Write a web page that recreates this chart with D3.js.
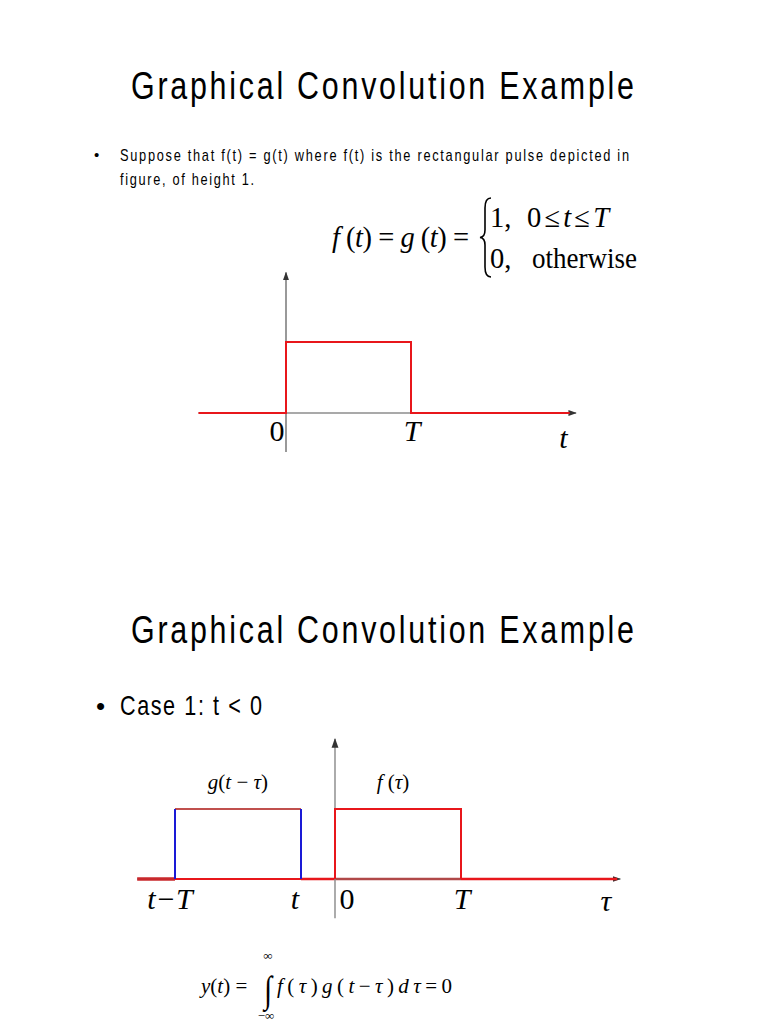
<!DOCTYPE html>
<html>
<head>
<meta charset="utf-8">
<script src="https://cdn.jsdelivr.net/npm/d3@7"></script>
<style>
  body { margin: 0; background: #fff; }
  .sans { font-family: "Liberation Sans", Arial, sans-serif; }
  .serif { font-family: "Liberation Serif", "Times New Roman", serif; }
</style>
</head>
<body>
<div id="chart"></div>
<script>
// Pulse data (T = 1, height 1)
const T = 1;
const pulseTime = [-0.7, 0, 0, T, T, 2.27];
const pulseValue = [0, 0, 1, 1, 0, 0];

// Case 1 (t < 0): shifted g(t - tau)
const tShift = -0.27;
const caseBaseTime = [-1.57, 2.24];
const caseAxisLabels = ["t\u2212T", "t", "0", "T"];
const caseAxisTicks = [tShift - T, tShift, 0, T];

const width = 768;
const height = 1024;
const narrow = 0.8; // condensed look of the slide font

const svg = d3.select("#chart")
  .append("svg")
  .attr("width", width)
  .attr("height", height);

// arrow head marker
svg.append("defs").append("marker")
  .attr("id", "arrow")
  .attr("viewBox", "0 0 10 10")
  .attr("refX", 9).attr("refY", 5)
  .attr("markerWidth", 7).attr("markerHeight", 7)
  .attr("orient", "auto-start-reverse")
  .append("path")
  .attr("d", "M0,1.5 L10,5 L0,8.5 Z")
  .attr("fill", "#333");

// narrow, letter-spaced sans text
function sansText(x, y, size, w, str) {
  svg.append("g")
    .attr("transform", `translate(${x},${y}) scale(${narrow},1)`)
    .append("text")
    .attr("class", "sans")
    .attr("font-size", size)
    .attr("textLength", w / narrow)
    .attr("lengthAdjust", "spacing")
    .text(str);
}

// Titles
sansText(131, 99, 38, 503, "Graphical Convolution Example");
sansText(131, 643, 38, 503, "Graphical Convolution Example");

// Bullet 1
svg.append("text").attr("class", "sans").attr("x", 94).attr("y", 160)
  .attr("font-size", 15).text("\u2022");
sansText(120, 161, 16, 509, "Suppose that f(t) = g(t) where f(t) is the rectangular pulse depicted in");
sansText(120, 185, 16, 134, "figure, of height 1.");

// Definition formula
const fm = svg.append("g").attr("class", "serif").attr("font-size", 28.5);
const lhs = fm.append("text").attr("x", 332).attr("y", 247)
  .attr("textLength", 137).attr("lengthAdjust", "spacing");
lhs.append("tspan").attr("font-style", "italic").text("f");
lhs.append("tspan").text(" (");
lhs.append("tspan").attr("font-style", "italic").text("t");
lhs.append("tspan").text(") = ");
lhs.append("tspan").attr("font-style", "italic").text("g");
lhs.append("tspan").text(" (");
lhs.append("tspan").attr("font-style", "italic").text("t");
lhs.append("tspan").text(") =");

fm.append("path")
  .attr("d", "M491,198 Q485,198 485,208 L485,230 Q485,237 480,237.5 Q485,238 485,245 L485,267 Q485,277 491,277")
  .attr("fill", "none").attr("stroke", "#000").attr("stroke-width", 1.6);

fm.append("text").attr("x", 490).attr("y", 227).text("1,");
const l1 = fm.append("text").attr("x", 527).attr("y", 227)
  .attr("textLength", 82).attr("lengthAdjust", "spacing");
l1.append("tspan").text("0\u2264");
l1.append("tspan").attr("font-style", "italic").text("t");
l1.append("tspan").text("\u2264");
l1.append("tspan").attr("font-style", "italic").text("T");
fm.append("text").attr("x", 490).attr("y", 268).text("0,");
fm.append("text").attr("x", 532).attr("y", 268)
  .attr("textLength", 105).attr("lengthAdjust", "spacingAndGlyphs").text("otherwise");

// ---------- Chart 1 ----------
const x1 = d3.scaleLinear().domain([0, T]).range([286, 411]);
const y1 = d3.scaleLinear().domain([0, 1]).range([413, 342]);

const line1 = d3.line().x(d => x1(d[0])).y(d => y1(d[1]));

// axes
svg.append("line")
  .attr("x1", x1(-0.7)).attr("x2", x1(2.32))
  .attr("y1", y1(0)).attr("y2", y1(0))
  .attr("stroke", "#555").attr("stroke-width", 1.2)
  .attr("marker-end", "url(#arrow)");
svg.append("line")
  .attr("x1", x1(0)).attr("x2", x1(0))
  .attr("y1", y1(-0.55)).attr("y2", y1(1.98))
  .attr("stroke", "#555").attr("stroke-width", 1.2)
  .attr("marker-end", "url(#arrow)");

svg.append("path")
  .datum(d3.zip(pulseTime, pulseValue))
  .attr("d", line1)
  .attr("fill", "none")
  .attr("stroke", "#e8161b")
  .attr("stroke-width", 2);

const lab1 = svg.append("g").attr("class", "serif").attr("font-size", 30).attr("text-anchor", "middle");
lab1.append("text").attr("x", x1(0) - 9).attr("y", 441).text("0");
lab1.append("text").attr("x", x1(T) + 1).attr("y", 441).attr("font-style", "italic").text("T");
lab1.append("text").attr("x", x1(2.22)).attr("y", 448).attr("font-style", "italic").text("t");

// Bullet 2
svg.append("text").attr("class", "sans").attr("x", 96).attr("y", 715)
  .attr("font-size", 26).text("\u2022");
sansText(120, 715, 27, 142, "Case 1: t < 0");

// ---------- Chart 2 ----------
const x2 = d3.scaleLinear().domain([0, T]).range([335, 461]);
const y2 = d3.scaleLinear().domain([0, 1]).range([879, 809]);
const line2 = d3.line().x(d => x2(d[0])).y(d => y2(d[1]));

// baseline (red) and axes
svg.append("line")
  .attr("x1", x2(caseBaseTime[0])).attr("x2", x2(caseBaseTime[1]) + 3)
  .attr("y1", y2(0)).attr("y2", y2(0))
  .attr("stroke", "#555").attr("stroke-width", 1.2)
  .attr("marker-end", "url(#arrow)");
svg.append("path")
  .datum([[tShift, 0], [0, 0]])
  .attr("d", line2).attr("stroke", "#e8161b").attr("stroke-width", 2.4);
svg.append("path")
  .datum([[0, 0], [T, 0]])
  .attr("d", line2).attr("stroke", "#b04848").attr("stroke-width", 2.4);
svg.append("path")
  .datum([[T, 0], [caseBaseTime[1], 0]])
  .attr("d", line2).attr("stroke", "#e8161b").attr("stroke-width", 2.4);
svg.append("path")
  .datum([[caseBaseTime[0], 0], [tShift - T, 0]])
  .attr("d", line2).attr("stroke", "#c8282c").attr("stroke-width", 3.4);
svg.append("path")
  .datum([[tShift - T, 0], [tShift, 0]])
  .attr("d", line2).attr("stroke", "#e8161b").attr("stroke-width", 2);

svg.append("line")
  .attr("x1", x2(0)).attr("x2", x2(0))
  .attr("y1", y2(-0.56)).attr("y2", y2(2.0))
  .attr("stroke", "#888").attr("stroke-width", 1.4)
  .attr("marker-end", "url(#arrow)");

// f(tau)
svg.append("path")
  .datum(d3.zip(pulseTime.slice(1, 5), pulseValue.slice(1, 5)))
  .attr("d", line2)
  .attr("fill", "none")
  .attr("stroke", "#e8161b")
  .attr("stroke-width", 2);

// g(t - tau): top edge and blue sides
svg.append("path")
  .datum([[tShift - T, 1], [tShift, 1]])
  .attr("d", line2).attr("stroke", "#c0504d").attr("stroke-width", 2);
[tShift - T, tShift].forEach(v => {
  svg.append("path")
    .datum([[v, 0], [v, 1]])
    .attr("d", line2).attr("stroke", "#1a1ad6").attr("stroke-width", 2);
});

const lab2 = svg.append("g").attr("class", "serif").attr("font-size", 30).attr("text-anchor", "middle");
const tickOffsets = [-5, -6, 12, 1];
caseAxisLabels.forEach((s, i) => {
  lab2.append("text")
    .attr("x", x2(caseAxisTicks[i]) + tickOffsets[i])
    .attr("y", 909)
    .attr("font-style", s === "0" ? "normal" : "italic")
    .text(s);
});
lab2.append("text").attr("x", x2(2.15)).attr("y", 911).attr("font-style", "italic").text("\u03c4");

const pl = svg.append("g").attr("class", "serif").attr("font-size", 21).attr("text-anchor", "middle");
const gl = pl.append("text").attr("x", x2(tShift - T / 2)).attr("y", 789);
gl.append("tspan").attr("font-style", "italic").text("g");
gl.append("tspan").text("(");
gl.append("tspan").attr("font-style", "italic").text("t");
gl.append("tspan").text(" \u2212 ");
gl.append("tspan").attr("font-style", "italic").text("\u03c4");
gl.append("tspan").text(")");
const fl = pl.append("text").attr("x", x2(0.46)).attr("y", 789);
fl.append("tspan").attr("font-style", "italic").text("f");
fl.append("tspan").text(" (");
fl.append("tspan").attr("font-style", "italic").text("\u03c4");
fl.append("tspan").text(")");

// Convolution integral
const cf = svg.append("g").attr("class", "serif");
const ya = cf.append("text").attr("x", 201).attr("y", 993).attr("font-size", 21);
ya.append("tspan").attr("font-style", "italic").text("y");
ya.append("tspan").text("(");
ya.append("tspan").attr("font-style", "italic").text("t");
ya.append("tspan").text(") =");
cf.append("text")
  .attr("transform", "translate(268,1002) scale(0.85,1.1)")
  .attr("font-size", 34)
  .attr("text-anchor", "middle").text("\u222b");
cf.append("text").attr("x", 268).attr("y", 960).attr("font-size", 13)
  .attr("text-anchor", "middle").text("\u221e");
cf.append("text").attr("x", 266).attr("y", 1020).attr("font-size", 13)
  .attr("text-anchor", "middle").text("\u2212\u221e");
const yb = cf.append("text").attr("x", 277).attr("y", 993).attr("font-size", 21)
  .attr("textLength", 175).attr("lengthAdjust", "spacing");
yb.append("tspan").attr("font-style", "italic").text("f");
yb.append("tspan").text("(");
yb.append("tspan").attr("font-style", "italic").text("\u03c4");
yb.append("tspan").text(")");
yb.append("tspan").attr("font-style", "italic").text("g");
yb.append("tspan").text("(");
yb.append("tspan").attr("font-style", "italic").text("t");
yb.append("tspan").text("\u2212");
yb.append("tspan").attr("font-style", "italic").text("\u03c4");
yb.append("tspan").text(")");
yb.append("tspan").attr("font-style", "italic").text("d\u03c4");
yb.append("tspan").text("=0");
</script>
</body>
</html>
